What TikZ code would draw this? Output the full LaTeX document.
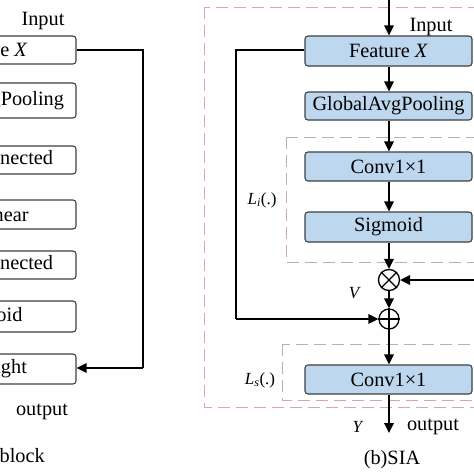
\documentclass[tikz,border=0pt]{standalone}
\usepackage{fontspec}
\setmainfont{Liberation Serif}
\usetikzlibrary{arrows.meta}
\definecolor{boxblue}{HTML}{BDD7EE}
\definecolor{boxline}{HTML}{404040}
\definecolor{dashpink}{HTML}{E0A4AA}
\definecolor{dashgray}{HTML}{C9ABAB}
\tikzset{
  blk/.style={draw=boxline, line width=1.1pt, rounded corners=3pt, inner sep=0pt},
  sebox/.style={blk, fill=white},
  siabox/.style={blk, fill=boxblue},
  conn/.style={line width=1.8pt, -{Triangle[length=10pt,width=9.5pt]}},
  plain/.style={line width=1.8pt},
  txt/.style={font=\fontsize{20.3}{23}\selectfont, inner sep=0pt},
  small/.style={font=\fontsize{17}{19}\selectfont, inner sep=0pt},
  odash/.style={draw=dashpink, line width=1pt, dash pattern=on 12pt off 6pt},
  idash/.style={draw=dashgray, line width=1pt, dash pattern=on 12pt off 6pt},
  op/.style={circle, draw=black, line width=1.3pt, minimum size=21pt, inner sep=0pt},
}
\begin{document}
\begin{tikzpicture}[x=1pt,y=-1pt]
\useasboundingbox (0,0) rectangle (474,474);
\clip (0,0) rectangle (474,474);
% ---------- (a) SE block ----------
\node[sebox, minimum width=176pt, minimum height=28pt] (a1) at (-12,50) {};
\node[txt] at (a1) {Feature \textit{X}};
\node[sebox, minimum width=176pt, minimum height=35pt] (a2) at (-12,100.5) {};
\node[txt] at (a2) {GlobalAvgPooling};
\node[sebox, minimum width=176pt, minimum height=28pt] (a3) at (-12,160) {};
\node[txt] at (a3) {Fully connected};
\node[sebox, minimum width=176pt, minimum height=29pt] (a4) at (-12,214.5) {};
\node[txt] at (a4) {Nonlinear};
\node[sebox, minimum width=176pt, minimum height=28pt] (a5) at (-12,265) {};
\node[txt] at (a5) {Fully connected};
\node[sebox, minimum width=176pt, minimum height=31pt] (a6) at (-12,316.5) {};
\node[txt] at (a6) {Sigmoid};
\node[sebox, minimum width=176pt, minimum height=30pt] (a7) at (-12,369) {};
\node[txt] at (a7) {Reweight};
\node[txt] (ain) at (43,21) {Input};
\node[txt] (aout) at (42,412) {output};
\node[txt, anchor=east] (acap) at (45,458) {(a)SE block};
\coordinate (ac1) at (143,50);
\coordinate (ac2) at (143,368);
\draw[plain] (a1.east) -- (ac1) -- (ac2);
\draw[conn] (ac2) -- (a7.east |- ac2);
% ---------- (b) SIA ----------
\draw[odash] (204,7) rectangle (500,407);
\draw[idash] (286,137) rectangle (500,262);
\draw[idash] (282,344) rectangle (500,400);
\node[siabox, minimum width=167pt, minimum height=30pt] (b1) at (388.5,51) {};
\node[txt] at (b1) {Feature \textit{X}};
\node[siabox, minimum width=167pt, minimum height=28pt] (b2) at (388.5,106) {};
\node[txt] at (b2) {GlobalAvgPooling};
\node[siabox, minimum width=167pt, minimum height=29pt] (b3) at (388.5,166.5) {};
\node[txt] at (b3) {Conv1×1};
\node[siabox, minimum width=167pt, minimum height=30pt] (b4) at (388.5,227) {};
\node[txt] at (b4) {Sigmoid};
\node[op] (mul) at (389,280) {};
\draw[line width=1.3pt] (mul.north west) -- (mul.south east) (mul.north east) -- (mul.south west);
\node[op, minimum size=20pt] (add) at (389,319) {};
\draw[line width=1.3pt] (add.north) -- (add.south) (add.west) -- (add.east);
\node[siabox, minimum width=167pt, minimum height=29pt] (b5) at (388.5,379.5) {};
\node[txt] at (b5) {Conv1×1};
\coordinate (top) at (389,-2);
\coordinate (rin) at (490,280);
\coordinate (bout) at (389,433);
\coordinate (lc1) at (236,50);
\coordinate (lc2) at (236,319);
\draw[conn] (top) -- (b1.north -| top);
\draw[conn] (b1.south -| top) -- (b2.north -| top);
\draw[conn] (b2.south -| top) -- (b3.north -| top);
\draw[conn] (b3.south -| top) -- (b4.north -| top);
\draw[conn] (b4.south -| top) -- (mul.north);
\draw[conn] (rin) -- (mul.east);
\draw[conn] (mul.south) -- (add.north);
\draw[plain] (b1.west |- lc1) -- (lc1) -- (lc2);
\draw[conn] (lc2) -- (add.west);
\draw[conn] (add.south) -- (b5.north -| top);
\draw[conn] (b5.south -| top) -- (bout);
\node[txt] (bin) at (431,27) {Input};
\node[small] (li) at (262,200) {\textit{L\textsubscript{i}}(.)};
\node[small] (ls) at (260,380) {\textit{L\textsubscript{s}}(.)};
\node[small] (vl) at (355,293) {\textit{V}};
\node[small] (yl) at (358,427) {\textit{Y}};
\node[txt] (bo) at (433,427) {output};
\node[txt] (bcap) at (392,460) {(b)SIA};
\end{tikzpicture}
\end{document}
